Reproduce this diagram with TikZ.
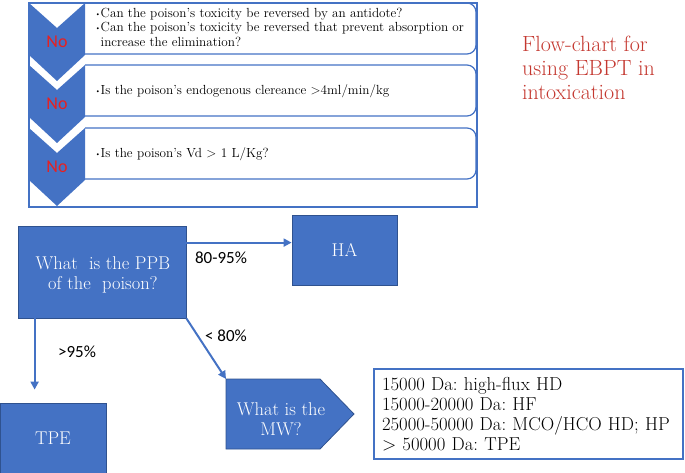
\documentclass[tikz,border=0pt]{standalone}
\usepackage{fontspec}
\newfontfamily\lblfont{Carlito}
\usetikzlibrary{arrows.meta}
\definecolor{boxblue}{RGB}{68,114,196}
\definecolor{edgeblue}{RGB}{47,82,143}
\definecolor{nored}{RGB}{232,32,32}
\definecolor{titlered}{RGB}{196,56,48}
\frenchspacing
\newcommand{\bul}{\makebox[5.5pt][l]{\raisebox{0.2ex}{\scalebox{0.55}{\textbullet}}}}
\tikzset{
bluebox/.style={draw=edgeblue,fill=boxblue,line width=0.8pt,text=white,align=center,font=\fontsize{18.5}{20}\selectfont},
lbl/.style={font=\lblfont\fontsize{17}{20}\selectfont},
arr/.style={draw=boxblue,line width=2pt,-{Triangle[length=8pt,width=8pt]}},
qtext/.style={align=left,inner sep=0pt,font=\fontsize{13.2}{14.5}\selectfont},
nolbl/.style={text=nored,font=\lblfont\fontsize{18}{20}\selectfont}
}
\begin{document}
\begin{tikzpicture}[x=1pt,y=-1pt]
\useasboundingbox(0,0)rectangle(685,473);
\foreach \y/\n in{3/1,65/2,128/3}{
\fill[boxblue](29,\y)--(57,\y+25)--(85,\y)--(85,\y+52)--(57,\y+78)--(29,\y+52)--cycle;
\node[nolbl](no\n)at(57,\y+39){No};
\draw[boxblue,line width=1.2pt,rounded corners=9pt](85,\y)--(476,\y)--(476,\y+51)--(85,\y+51);
}
\draw[boxblue,line width=1.2pt](29,3)rectangle(477,207);
\node[qtext,anchor=north west](q1)at(95,8){\bul Can the poison's toxicity be reversed by an antidote?\\
\bul Can the poison's toxicity be reversed that prevent absorption or\\\hphantom{\bul}increase the elimination?};
\node[qtext,anchor=base west](q2)at(95,95){\bul Is the poison's endogenous clereance >4ml/min/kg};
\node[qtext,anchor=base west](q3)at(95,158){\bul Is the poison's Vd > 1 L/Kg?};
\node[anchor=north west,align=left,inner sep=0pt,text=titlered,font=\fontsize{22}{24}\selectfont](title)at(522,36)
{Flow-chart for\\using EBPT in\\intoxication};
\node[bluebox,minimum width=168pt,minimum height=92pt](ppb)at(102,272){};
\node[text=white,align=center,font=\fontsize{18.5}{20}\selectfont](ppbtext)at(103,275){What\ \ is the PPB\\of the\ \ poison?};
\node[bluebox,minimum width=105pt,minimum height=70pt](ha)at(344.5,250){HA};
\node[bluebox,minimum width=106pt,minimum height=70pt](tpe)at(53,438){TPE};
\filldraw[fill=boxblue,draw=edgeblue,line width=0.8pt](226,379)--(320,379)--(354,414)--(320,449)--(226,449)--cycle;
\node[text=white,align=center,font=\fontsize{18.5}{20}\selectfont](mw)at(281,419){What is the\\MW?};
\coordinate(mwin)at(226,379);
\node[draw=boxblue,line width=1.5pt,minimum height=90pt,text width=293pt,inner xsep=8pt,align=left,
font=\fontsize{18.7}{20}\selectfont](mwlist)at(528.5,414){15000 Da: high-flux HD\\15000-20000 Da: HF\\
25000-50000 Da: MCO/HCO HD; HP\\> 50000 Da: TPE};
\coordinate(ppbr)at([yshift=-17pt]ppb.north east);
\coordinate(ppbl)at([xshift=17pt]ppb.south west);
\draw[arr](ppbr)--(ppbr-|ha.west);
\draw[arr](ppbl)--([yshift=13pt]ppbl|-tpe.north);
\draw[arr](ppb.south east)--(mwin);
\node[lbl](pct1)at(221,258){80-95\%};
\node[lbl](pct2)at(77,352){>95\%};
\node[lbl](pct3)at(226,336){< 80\%};
\end{tikzpicture}
\end{document}
